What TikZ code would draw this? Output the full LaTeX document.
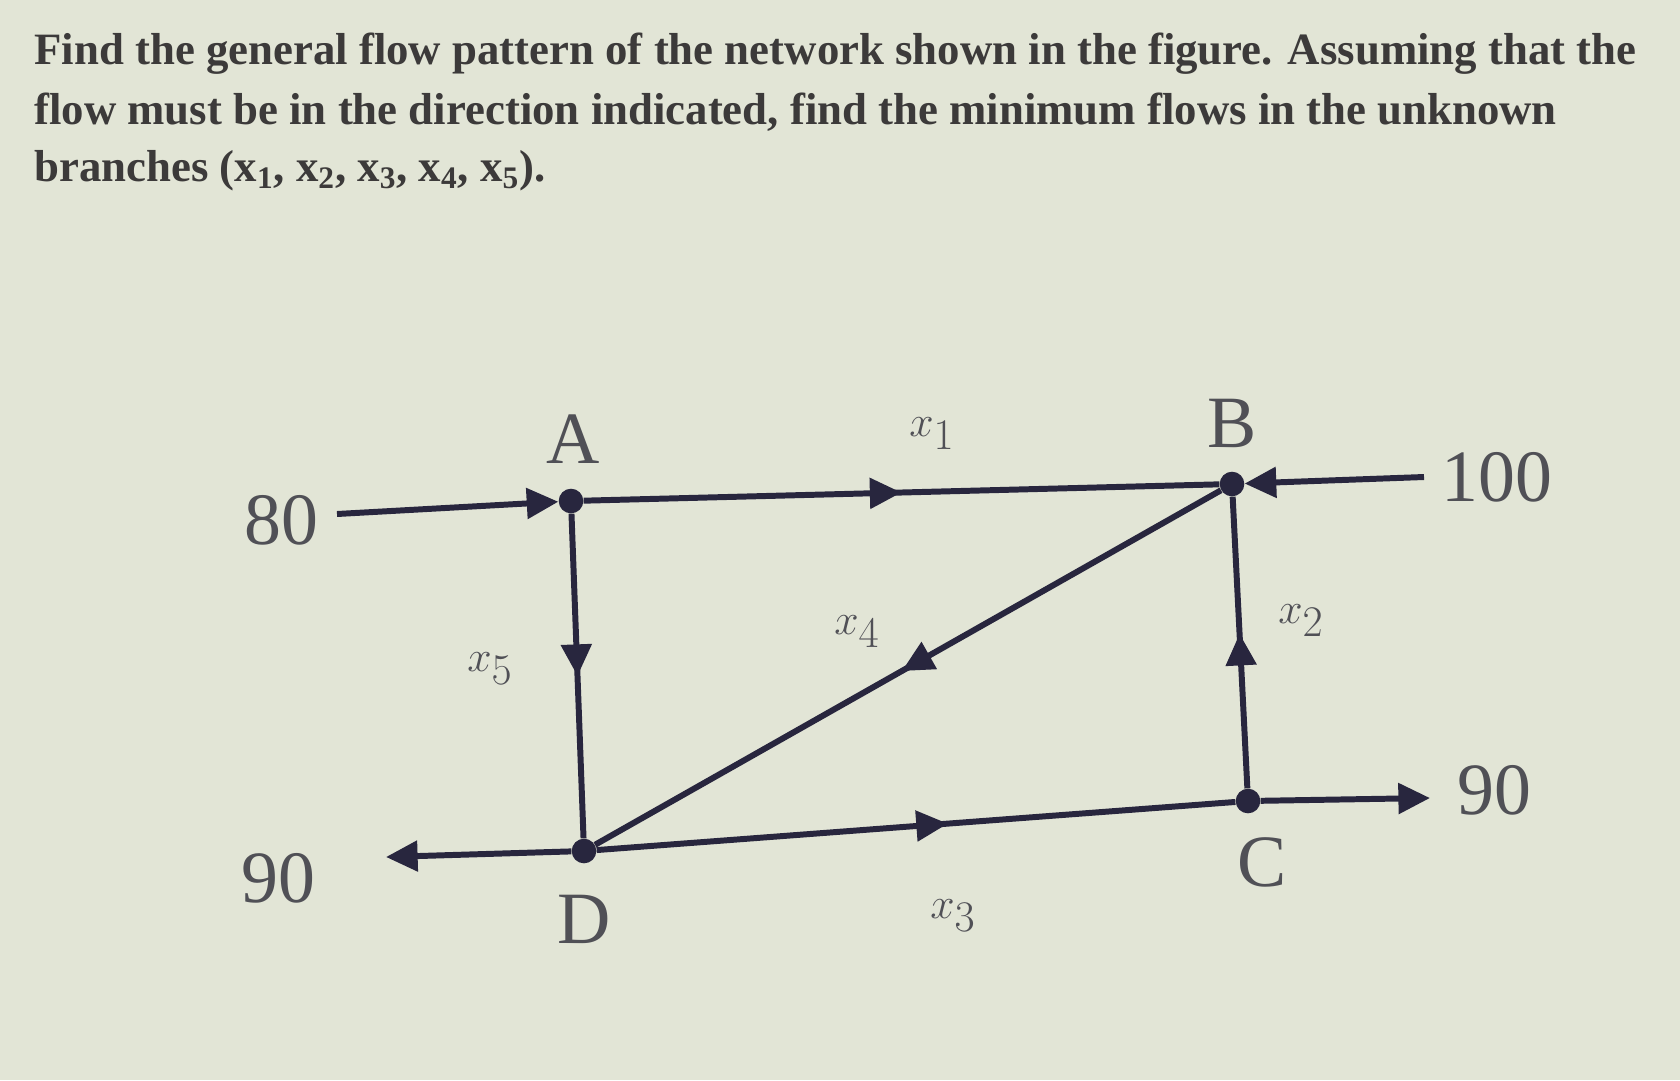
\documentclass[tikz,border=0pt]{standalone}
\usepackage{fontspec}
\setmainfont{Liberation Serif}
\usetikzlibrary{arrows.meta,decorations.markings}
\definecolor{bg}{RGB}{226,229,214}
\definecolor{ln}{RGB}{40,38,62}
\definecolor{tx}{RGB}{80,80,86}
\definecolor{hd}{RGB}{60,58,58}
\begin{document}
\begin{tikzpicture}[x=0.02cm,y=-0.02cm,
  edge/.style={draw=ln,line width=3.4pt},
  tip/.style={-{Triangle[length=18pt,width=17pt]}},
  mid/.style={postaction={decorate},decoration={markings,mark=at position #1 with {\arrow{Triangle[length=18pt,width=17pt]}}}},
  dot/.style={circle,fill=ln,inner sep=0pt,minimum size=14pt},
  lab/.style={text=tx,font=\fontsize{42}{42}\selectfont},
  hdr/.style={anchor=west,text=hd,font=\bfseries\fontsize{25.5}{25.5}\selectfont,inner sep=0pt}]
\fill[bg] (0,0) rectangle (1680,1080);
\useasboundingbox (0,0) rectangle (1680,1080);
\node[hdr] (t1) at (34,54) {Find the general flow pattern of the network shown in the figure. Assuming that the};
\node[hdr] (t2) at (34,112) {flow must be in the direction indicated, find the minimum flows in the unknown};
\node[hdr] (t3) at (34,171) {branches (x\textsubscript{1}, x\textsubscript{2}, x\textsubscript{3}, x\textsubscript{4}, x\textsubscript{5}).};
\node[dot] (A) at (571,501) {};
\node[dot] (B) at (1232,484) {};
\node[dot] (C) at (1248,801) {};
\node[dot] (D) at (584,851) {};
\coordinate (in80) at (337,514);
\coordinate (in100) at (1424,477);
\coordinate (out90r) at (1430,798);
\coordinate (out90l) at (386,857);
\draw[edge,tip] (in80) -- (A);
\draw[edge,tip] (in100) -- (B);
\draw[edge,tip] (C) -- (out90r);
\draw[edge,tip] (D) -- (out90l);
\draw[edge,mid=0.5] (A) -- (B);
\draw[edge,mid=0.51] (B) -- (D);
\draw[edge,mid=0.5] (A) -- (D);
\draw[edge,mid=0.53] (C) -- (B);
\draw[edge,mid=0.55] (D) -- (C);
\node[lab] (lA) at (573,439) {A};
\node[lab] (lB) at (1232,423) {B};
\node[lab] (lC) at (1262,862) {C};
\node[lab] (lD) at (584,919) {D};
\node[lab] (l80) at (281,520) {80};
\node[lab] (l100) at (1497,477) {100};
\node[lab] (l90r) at (1494,790) {90};
\node[lab] (l90l) at (278,878) {90};
\node[lab] (x1) at (932,434) {$x_1$};
\node[lab] (x2) at (1301,621) {$x_2$};
\node[lab] (x3) at (953,916) {$x_3$};
\node[lab] (x4) at (857,632) {$x_4$};
\node[lab] (x5) at (490,669) {$x_5$};
\end{tikzpicture}
\end{document}
